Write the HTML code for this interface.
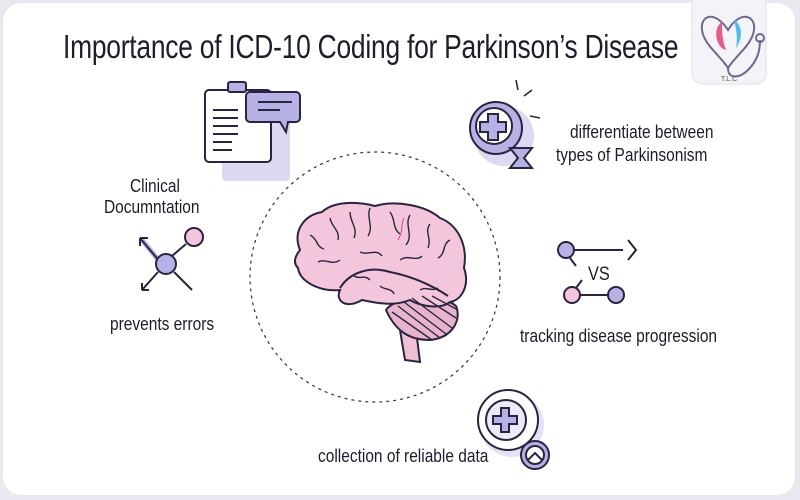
<!DOCTYPE html>
<html><head><meta charset="utf-8"><style>
html,body{margin:0;padding:0;background:#e9e8f0;}
body{width:800px;height:500px;overflow:hidden;position:relative;font-family:"Liberation Sans",sans-serif;color:#1e1d2b;}
.card{position:absolute;left:3px;top:3px;width:792px;height:492px;background:#fff;border-radius:18px;}
.t{position:absolute;white-space:nowrap;transform-origin:0 0;transform:scaleX(0.86);font-size:18px;}
</style></head><body>
<div class="card"></div>
<svg width="800" height="500" style="position:absolute;left:0;top:0">
<rect x="692" y="-6" width="74" height="90" rx="10" fill="#f4f3f7" stroke="#e0dfe6"/>
<path d="M728 30 C715 10 700 15 702 30 C704 45 720 55 728 68 C736 55 752 45 754 30 C756 15 740 10 728 30Z" fill="none" stroke="#6f6891" stroke-width="2"/>
<path d="M722 22 C712 28 716 48 726 50 C722 40 722 30 722 22Z" fill="#e85a8a"/>
<path d="M734 20 C744 26 742 40 736 48 C738 38 736 28 734 20Z" fill="#4cc0ea"/>
<path d="M728 68 C728 80 740 78 748 70 C758 60 760 50 760 40" fill="none" stroke="#6f6891" stroke-width="2"/>
<circle cx="760" cy="38" r="4" fill="none" stroke="#6f6891" stroke-width="2"/>
<text x="729" y="81" font-size="7" text-anchor="middle" fill="#555" font-family="Liberation Sans">T.L.C</text>
<circle cx="375" cy="277" r="125" fill="none" stroke="#333" stroke-width="1.2" stroke-dasharray="3 4"/>
<g stroke="#2a2440" stroke-width="2" fill="#f3c6dc">
<path d="M405 360 L400 330 L415 322 L420 362Z" fill="#f0c0d6"/>
<path d="M386 310 C395 296 440 292 456 306 C462 320 452 338 430 340 C410 340 396 332 386 310Z" fill="#e7b4cc"/>
<path d="M300 250 C292 230 305 215 322 212 C335 200 360 202 375 206 C395 200 425 205 440 218 C458 225 468 245 464 268 C470 285 462 300 450 302 C440 310 420 306 410 300 C395 306 380 304 362 300 C345 310 335 300 340 290 C320 292 300 282 298 268 C292 262 296 255 300 250Z"/>
<path d="M340 288 C350 272 370 266 390 272 C410 276 430 284 448 296" fill="none"/>
</g>
<g stroke="#2a2440" stroke-width="1.4" fill="none">
<path d="M310 235 c8 4 6 12 14 14 M330 218 c2 10 10 12 8 22 M350 212 c0 10 8 16 4 26 M370 208 c-4 10 4 18 -2 28 M390 212 c6 8 2 16 10 22 M410 215 c-6 10 4 20 -4 30 M430 224 c-6 8 2 14 -2 24 M450 240 c-8 4 -4 14 -12 18 M318 262 c8 -4 14 4 22 -2 M360 252 c8 4 16 -4 22 4 M400 260 c8 -6 16 2 22 -4 M380 286 c4 4 12 2 14 8 M420 290 c6 -4 12 2 18 -2 M354 276 c6 4 10 -2 16 4"/>
<path d="M398 306 L440 338 M404 302 L446 334 M412 298 L452 328 M422 296 L456 318 M432 296 L458 310 M392 312 L432 340"/>
</g>
<path d="M398 240 c6 -10 2 -14 6 -22" stroke="#d05080" stroke-width="1" fill="none"/>
<rect x="216" y="97" width="68" height="78" rx="4" fill="#dcd9f2" transform="translate(6,6)"/>
<rect x="205" y="90" width="66" height="72" rx="4" fill="#fff" stroke="#2a2440" stroke-width="2"/>
<rect x="228" y="82" width="18" height="10" rx="2" fill="#b7b2e6" stroke="#2a2440" stroke-width="2"/>
<g stroke="#2a2440" stroke-width="2"><line x1="213" y1="110" x2="238" y2="110"/><line x1="213" y1="118" x2="238" y2="118"/><line x1="213" y1="126" x2="238" y2="126"/><line x1="213" y1="134" x2="238" y2="134"/><line x1="213" y1="142" x2="232" y2="142"/><line x1="213" y1="150" x2="232" y2="150"/></g>
<path d="M250 92 h46 a4 4 0 0 1 4 4 v22 a4 4 0 0 1 -4 4 h-8 l-2 10 l-6 -10 h-30 a4 4 0 0 1 -4 -4 v-22 a4 4 0 0 1 4 -4z" fill="#b7b2e6" stroke="#2a2440" stroke-width="2"/>
<g stroke="#2a2440" stroke-width="2"><line x1="258" y1="102" x2="292" y2="102"/><line x1="258" y1="110" x2="280" y2="110"/></g>
<circle cx="498" cy="130" r="30" fill="#dcd9f2" transform="translate(6,6)"/>
<circle cx="496" cy="128" r="26" fill="#b7b2e6" stroke="#2a2440" stroke-width="2"/>
<circle cx="494" cy="126" r="18" fill="#fff" stroke="#2a2440" stroke-width="2"/>
<path d="M488 114 h10 v8 h8 v10 h-8 v8 h-10 v-8 h-8 v-10 h8z" fill="#b7b2e6" stroke="#2a2440" stroke-width="2"/>
<path d="M510 148 h22 l-8 10 l8 10 h-22 l8 -10z" fill="#b7b2e6" stroke="#2a2440" stroke-width="2"/>
<g stroke="#2a2440" stroke-width="1.6"><line x1="516" y1="80" x2="518" y2="90"/><line x1="524" y1="96" x2="532" y2="90"/><line x1="530" y1="116" x2="540" y2="118"/></g>
<g stroke="#2a2440" stroke-width="2" fill="none">
<path d="M142 240 L160 262" stroke-width="5" stroke="#b7b2e6"/>
<path d="M140 238 L160 262 M140 238 l0 8 M140 238 l8 0"/>
<circle cx="166" cy="264" r="10" fill="#b7b2e6"/>
<line x1="158" y1="272" x2="142" y2="290"/><path d="M142 290 l0 -7 M142 290 l7 0"/>
<line x1="174" y1="272" x2="192" y2="290"/>
<line x1="172" y1="256" x2="186" y2="244"/>
<circle cx="194" cy="237" r="9" fill="#f3c6dc"/>
</g>
<g stroke="#2a2440" stroke-width="2" fill="none">
<circle cx="566" cy="250" r="8" fill="#b7b2e6"/>
<line x1="574" y1="250" x2="623" y2="250"/>
<path d="M628 240 l8 10 l-8 10"/>
<line x1="570" y1="258" x2="576" y2="266"/>
<circle cx="572" cy="295" r="8" fill="#f3c6dc"/>
<line x1="576" y1="288" x2="582" y2="280"/>
<line x1="580" y1="295" x2="610" y2="295"/>
<circle cx="616" cy="295" r="8" fill="#b7b2e6"/>
</g>
<circle cx="512" cy="425" r="32" fill="#e4e2f5"/>
<g stroke="#2a2440" stroke-width="2" fill="none">
<circle cx="508" cy="420" r="30" fill="#fff"/>
<circle cx="506" cy="420" r="20" fill="#eceaf8"/>
<path d="M501 408 h8 v8 h8 v8 h-8 v8 h-8 v-8 h-8 v-8 h8z" fill="#b7b2e6"/>
<circle cx="535" cy="455" r="14" fill="#b7b2e6"/>
<circle cx="535" cy="455" r="9" fill="#fff"/>
<path d="M528 460 l7 -7 l7 7"/>
</g>
</svg>
<div class="t" style="left:63px;top:28px;font-size:33px;transform:scaleX(0.8);letter-spacing:-0.3px;">Importance of ICD-10 Coding for Parkinson’s Disease</div>
<div class="t" style="left:130px;top:176px;">Clinical</div>
<div class="t" style="left:104px;top:197px;">Documntation</div>
<div class="t" style="left:110px;top:314px;">prevents errors</div>
<div class="t" style="left:570px;top:122px;">differentiate between</div>
<div class="t" style="left:556px;top:145px;">types of Parkinsonism</div>
<div class="t" style="left:588px;top:264px;font-size:19px;">VS</div>
<div class="t" style="left:520px;top:326px;">tracking disease progression</div>
<div class="t" style="left:318px;top:446px;">collection of reliable data</div>
</body></html>
